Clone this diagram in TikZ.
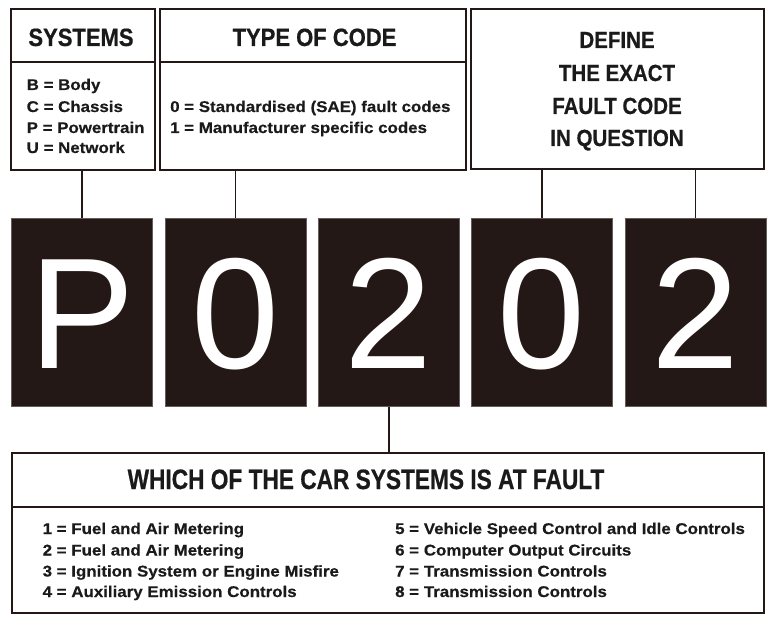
\documentclass[tikz,border=0pt]{standalone}
\usepackage{fontspec}
\newfontfamily\digf{Liberation Sans}
\newfontfamily\whf{Liberation Sans Bold}[FakeStretch=0.81, FakeBold=0.6]
\newfontfamily\hdf{Liberation Sans Bold}[FakeStretch=0.88, FakeBold=0.6]
\newfontfamily\smf{Liberation Sans Bold}[FakeStretch=1.09, FakeBold=0.5]
\definecolor{ink}{HTML}{231815}
\definecolor{txt}{HTML}{1A1A1A}
\tikzset{
  frame/.style={draw=ink, line width=2.4pt, inner sep=0pt, anchor=north west},
  divl/.style={draw=ink, line width=2pt},
  digbox/.style={fill=ink, draw=ink!70!white, line width=0.6pt, minimum width=141pt,
    minimum height=188.5pt, inner sep=0pt, anchor=north west},
  digit/.style={text=white, font=\digf\fontsize{158}{160}\selectfont, inner sep=0pt, anchor=base},
  conn/.style={draw=ink, line width=1.6pt},
  hd/.style={text=txt, font=\hdf\fontsize{25}{27}\selectfont, inner sep=0pt, anchor=base},
  dh/.style={text=txt, font=\hdf\fontsize{23.3}{25}\selectfont, inner sep=0pt, anchor=base},
  wh/.style={text=txt, font=\whf\fontsize{28}{30}\selectfont, inner sep=0pt, anchor=base},
  sm/.style={text=txt, font=\smf\fontsize{15.5}{17}\selectfont, inner sep=0pt, anchor=base west},
}
\begin{document}
\begin{tikzpicture}[x=1pt,y=-1pt]
\useasboundingbox (0,0) rectangle (767,620);
% frames
\node[frame, minimum width=144pt, minimum height=161pt] (sys) at (10,8) {};
\node[frame, minimum width=306pt, minimum height=161pt] (type) at (159,8) {};
\node[frame, minimum width=293pt, minimum height=160pt] (def) at (470,8) {};
\node[frame, minimum width=752pt, minimum height=160pt] (which) at (11,452) {};
\coordinate (d1) at (0,62);
\coordinate (d2) at (0,507);
\draw[divl] (sys.west |- d1) -- (sys.east |- d1);
\draw[divl] (type.west |- d1) -- (type.east |- d1);
\draw[divl] (which.west |- d2) -- (which.east |- d2);
% digit boxes
\node[digbox] (b1) at (11,217.5) {};
\node[digbox] (b2) at (164.5,217.5) {};
\node[digbox] (b3) at (318,217.5) {};
\node[digbox] (b4) at (471,217.5) {};
\node[digbox] (b5) at (624.5,217.5) {};
\coordinate (base) at (0,368);
\node[digit] (dP) at (b1.center |- base) {P};
\node[digit] (d0a) at (b2.center |- base) {0};
\node[digit] (d2a) at (b3.center |- base) {2};
\node[digit] (d0b) at (b4.center |- base) {0};
\node[digit] (d2b) at (b5.center |- base) {2};
% connectors
\draw[conn] (b1.north) -- (b1.north |- sys.south);
\draw[conn] (b2.north) -- (b2.north |- type.south);
\draw[conn] (b4.north) -- (b4.north |- def.south);
\draw[conn] (b5.north) -- (b5.north |- def.south);
\draw[conn] (b3.south) -- (b3.south |- which.north);
% headers
\node[hd] (tsys) at (81,46) {SYSTEMS};
\node[hd] (ttype) at (314.5,46) {TYPE OF CODE};
\node[dh] (tdef1) at (617,48) {DEFINE};
\node[dh] (tdef2) at (617,81) {THE EXACT};
\node[dh] (tdef3) at (617,114) {FAULT CODE};
\node[dh] (tdef4) at (617,146) {IN QUESTION};
\node[wh] (twh) at (366,489) {WHICH OF THE CAR SYSTEMS IS AT FAULT};
% systems list
\node[sm] (s1) at (26.5,90) {B = Body};
\node[sm] (s2) at (26.5,112) {C = Chassis};
\node[sm] (s3) at (26.5,133) {P = Powertrain};
\node[sm] (s4) at (26.5,153) {U = Network};
% type list
\node[sm] (c1) at (170,112) {0 = Standardised (SAE) fault codes};
\node[sm] (c2) at (170,133) {1 = Manufacturer specific codes};
% fault list
\node[sm] (f1) at (42.5,534) {1 = Fuel and Air Metering};
\node[sm] (f2) at (42.5,555.5) {2 = Fuel and Air Metering};
\node[sm] (f3) at (42.5,576.5) {3 = Ignition System or Engine Misfire};
\node[sm] (f4) at (42.5,597) {4 = Auxiliary Emission Controls};
\node[sm] (f5) at (395,534) {5 = Vehicle Speed Control and Idle Controls};
\node[sm] (f6) at (395,555.5) {6 = Computer Output Circuits};
\node[sm] (f7) at (395,576.5) {7 = Transmission Controls};
\node[sm] (f8) at (395,597) {8 = Transmission Controls};
\end{tikzpicture}
\end{document}
